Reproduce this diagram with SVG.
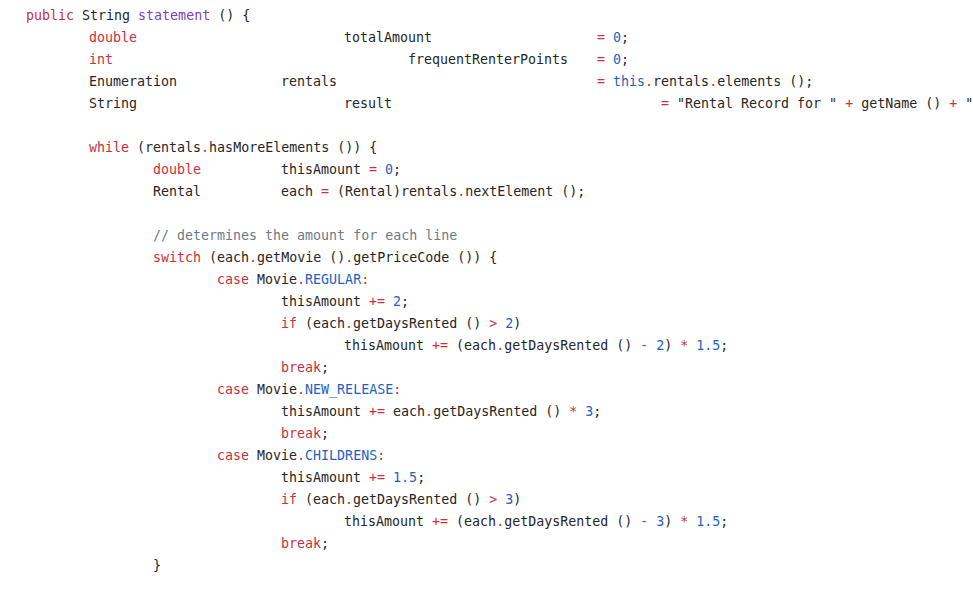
<svg xmlns="http://www.w3.org/2000/svg" width="973" height="591" viewBox="0 0 973 591" xml:space="preserve">
<style>
text{font-family:"DejaVu Sans Mono","Liberation Mono",monospace;font-size:13.3px;fill:#262626}
.k{fill:#c9303c}.n{fill:#1d5fc9}.p{fill:#7b3fbf}.c{fill:#6d7a86}
</style>
<rect width="973" height="591" fill="#fff"/>
<g id="code">
<text x="26" y="20"><tspan class="k">public</tspan> String <tspan class="p">statement</tspan> () {</text>
<text x="89" y="42" class="k">double</text><text x="344" y="42">totalAmount</text><text x="597" y="42"><tspan class="k">=</tspan> <tspan class="n">0</tspan>;</text>
<text x="89" y="64" class="k">int</text><text x="408" y="64">frequentRenterPoints</text><text x="597" y="64"><tspan class="k">=</tspan> <tspan class="n">0</tspan>;</text>
<text x="89" y="86">Enumeration</text><text x="281" y="86">rentals</text><text x="597" y="86"><tspan class="k">=</tspan> <tspan class="n">this</tspan><tspan class="k">.</tspan>rentals<tspan class="k">.</tspan>elements ();</text>
<text x="89" y="108">String</text><text x="344" y="108">result</text><text x="661" y="108"><tspan class="k">=</tspan> "Rental Record for " <tspan class="k">+</tspan> getName () <tspan class="k">+</tspan> "</text>
<text x="89" y="152"><tspan class="k">while</tspan> (rentals<tspan class="k">.</tspan>hasMoreElements ()) {</text>
<text x="153" y="174" class="k">double</text><text x="281" y="174">thisAmount <tspan class="k">=</tspan> <tspan class="n">0</tspan>;</text>
<text x="153" y="196">Rental</text><text x="281" y="196">each <tspan class="k">=</tspan> (Rental)rentals<tspan class="k">.</tspan>nextElement ();</text>
<text x="153" y="240" class="c">// determines the amount for each line</text>
<text x="153" y="262"><tspan class="k">switch</tspan> (each<tspan class="k">.</tspan>getMovie ()<tspan class="k">.</tspan>getPriceCode ()) {</text>
<text x="217" y="284"><tspan class="k">case</tspan> Movie<tspan class="k">.</tspan><tspan class="n">REGULAR</tspan><tspan class="k">:</tspan></text>
<text x="281" y="306">thisAmount <tspan class="k">+=</tspan> <tspan class="n">2</tspan>;</text>
<text x="281" y="328"><tspan class="k">if</tspan> (each<tspan class="k">.</tspan>getDaysRented () <tspan class="k">&gt;</tspan> <tspan class="n">2</tspan>)</text>
<text x="344" y="350">thisAmount <tspan class="k">+=</tspan> (each<tspan class="k">.</tspan>getDaysRented () <tspan class="k">-</tspan> <tspan class="n">2</tspan>) <tspan class="k">*</tspan> <tspan class="n">1.5</tspan>;</text>
<text x="281" y="372"><tspan class="k">break</tspan>;</text>
<text x="217" y="394"><tspan class="k">case</tspan> Movie<tspan class="k">.</tspan><tspan class="n">NEW_RELEASE</tspan><tspan class="k">:</tspan></text>
<text x="281" y="416">thisAmount <tspan class="k">+=</tspan> each<tspan class="k">.</tspan>getDaysRented () <tspan class="k">*</tspan> <tspan class="n">3</tspan>;</text>
<text x="281" y="438"><tspan class="k">break</tspan>;</text>
<text x="217" y="460"><tspan class="k">case</tspan> Movie<tspan class="k">.</tspan><tspan class="n">CHILDRENS</tspan><tspan class="k">:</tspan></text>
<text x="281" y="482">thisAmount <tspan class="k">+=</tspan> <tspan class="n">1.5</tspan>;</text>
<text x="281" y="504"><tspan class="k">if</tspan> (each<tspan class="k">.</tspan>getDaysRented () <tspan class="k">&gt;</tspan> <tspan class="n">3</tspan>)</text>
<text x="344" y="526">thisAmount <tspan class="k">+=</tspan> (each<tspan class="k">.</tspan>getDaysRented () <tspan class="k">-</tspan> <tspan class="n">3</tspan>) <tspan class="k">*</tspan> <tspan class="n">1.5</tspan>;</text>
<text x="281" y="548"><tspan class="k">break</tspan>;</text>
<text x="153" y="570">}</text>
</g>
</svg>
